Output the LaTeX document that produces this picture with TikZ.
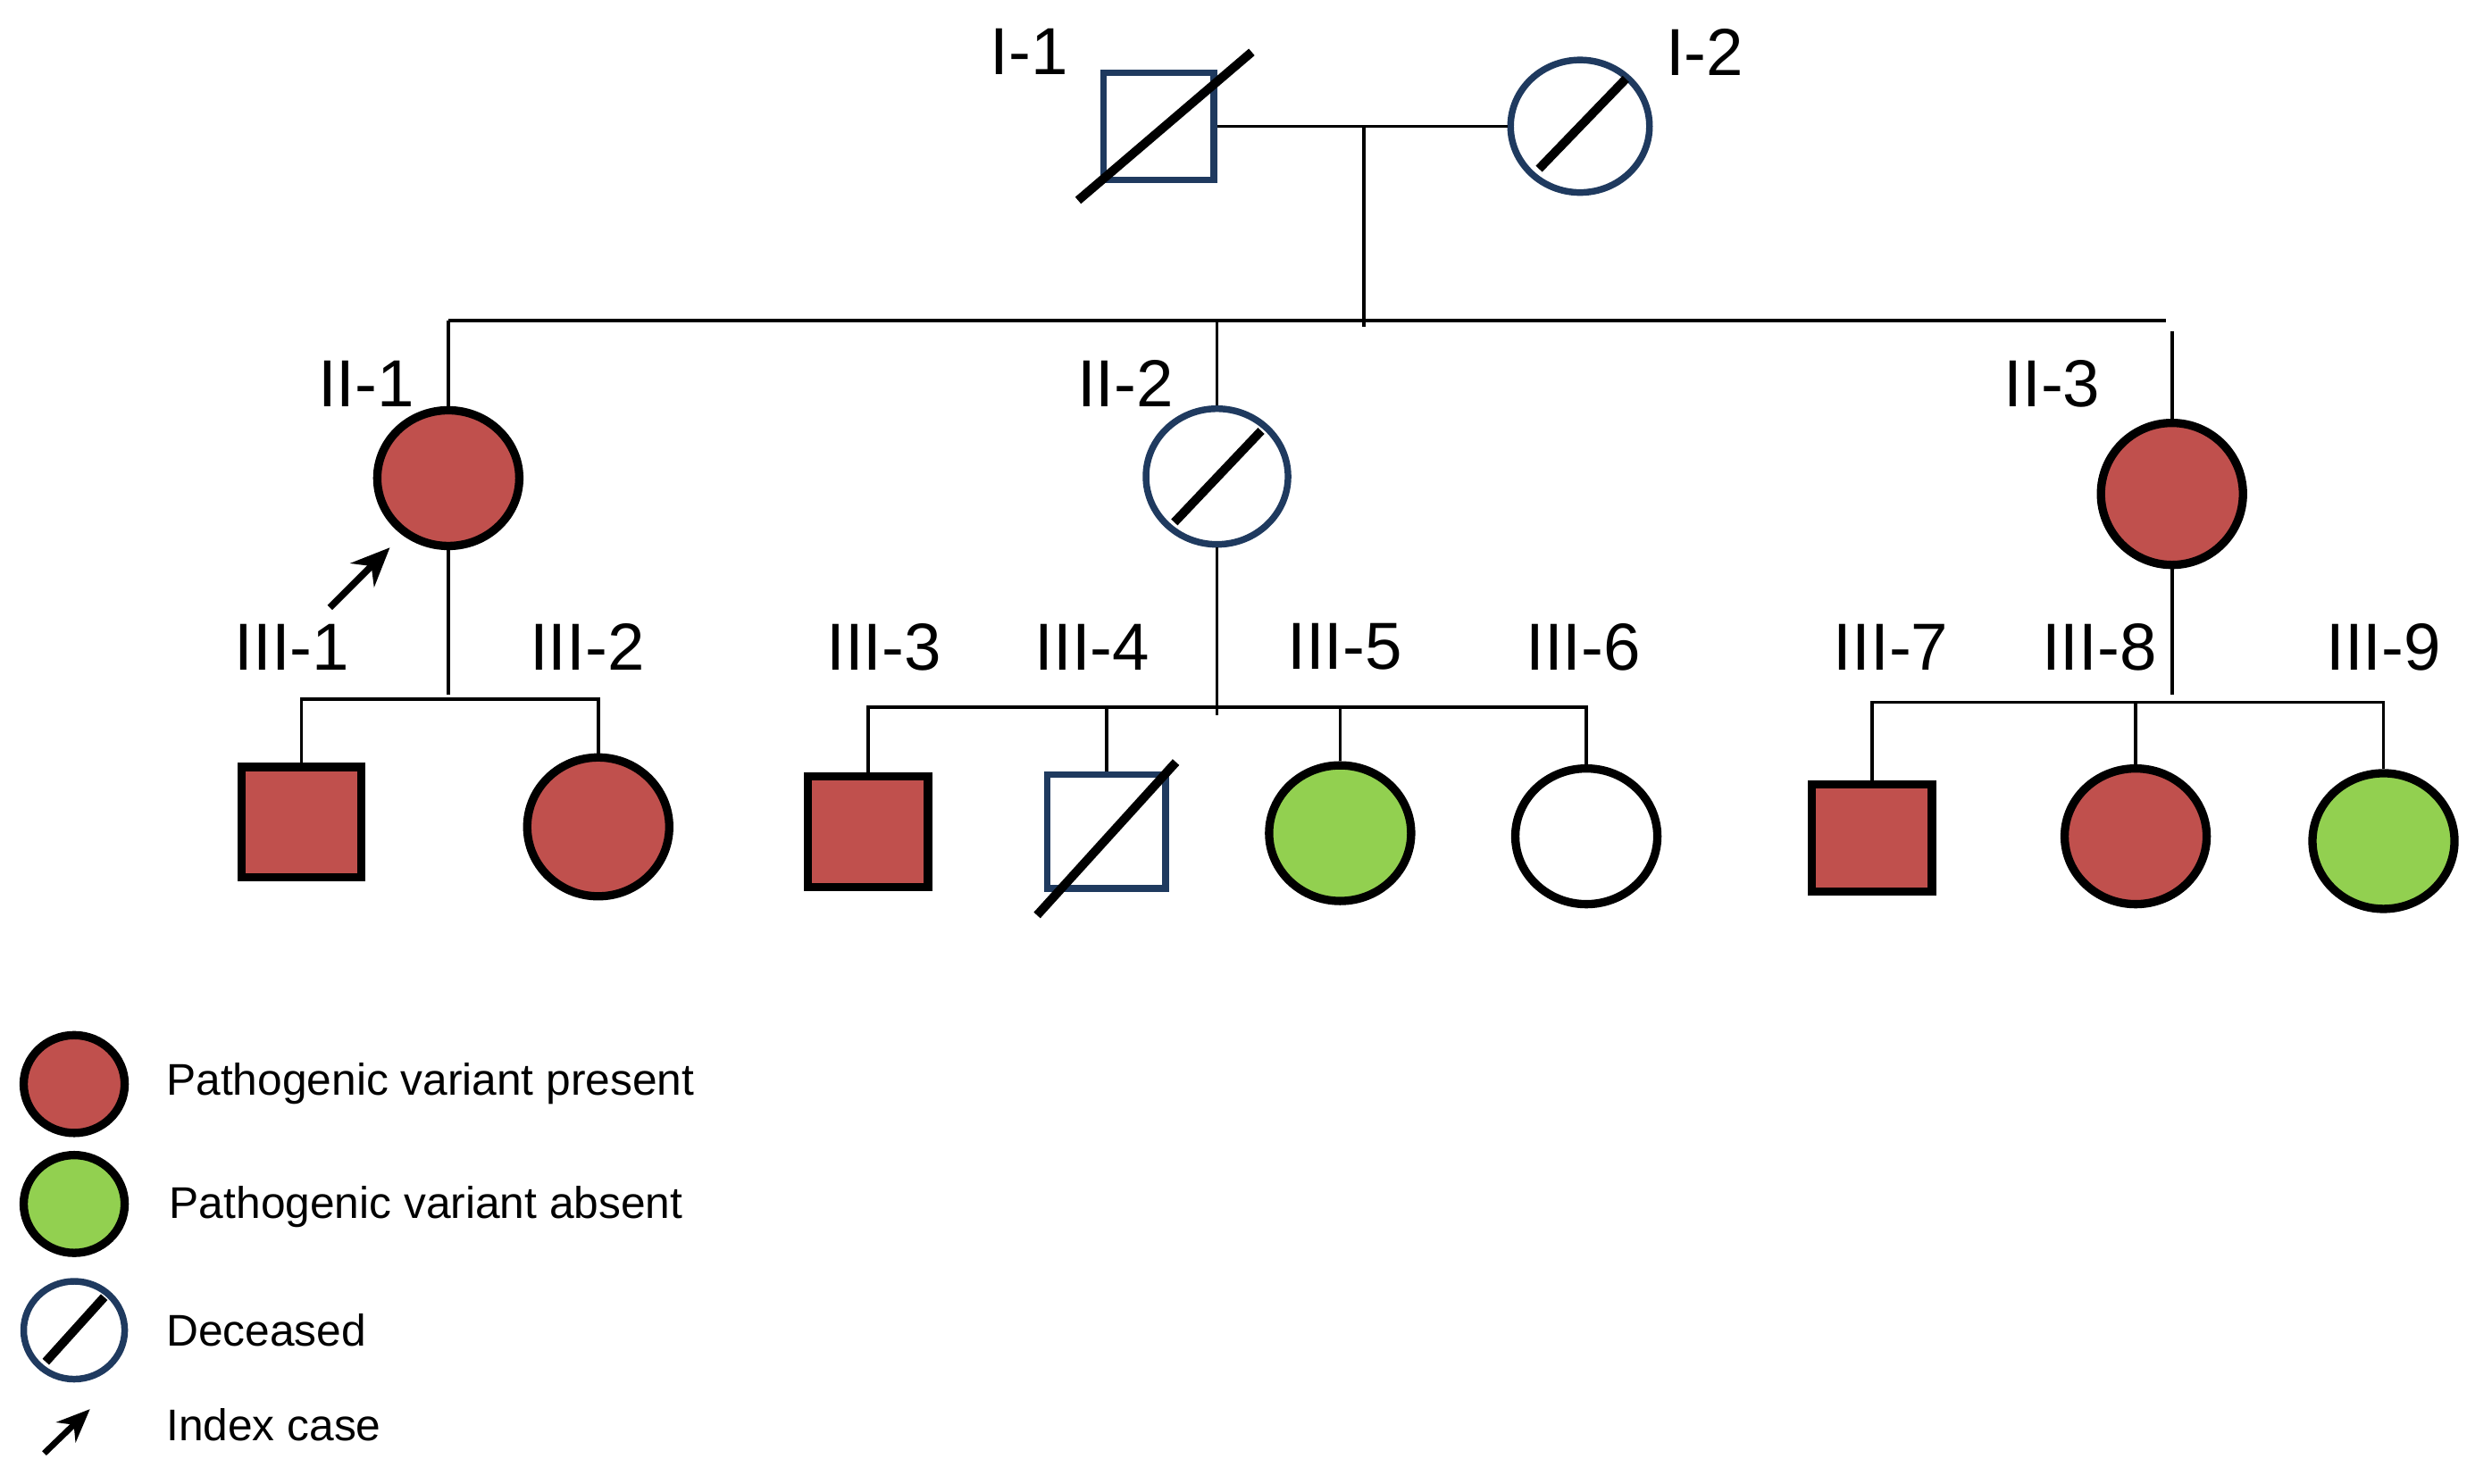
\documentclass[tikz,border=0pt]{standalone}
\usepackage{fontspec}
\setmainfont{Liberation Sans}
\usepackage{xcolor}
\usetikzlibrary{positioning,arrows.meta}
\definecolor{carrier}{HTML}{C0504D}
\definecolor{nocarrier}{HTML}{92D050}
\definecolor{deadline}{HTML}{1F3A5F}

\tikzset{
  male/.style={draw=black,line width=1.5pt,fill=carrier,minimum width=0.76cm,minimum height=0.7cm,inner sep=0pt},
  female/.style={draw=black,line width=1.5pt,fill=carrier,ellipse,minimum width=0.9cm,minimum height=0.86cm,inner sep=0pt},
  dead/.style={draw=deadline,fill=white,line width=1.2pt},
  slash/.style={line width=1.6pt,black},
  link/.style={line width=0.6pt},
  lab/.style={font=\fontsize{12}{12}\selectfont},
  leg/.style={font=\fontsize{8}{9}\selectfont,anchor=west}
}
\usetikzlibrary{shapes.geometric}

\begin{document}
\begin{tikzpicture}
\useasboundingbox (0,0) rectangle (15.68,9.4);
% generation I
\node [male,dead,minimum width=0.7cm,minimum height=0.68cm] (i1) at (7.34,8.6) {};
\node [female,dead,minimum width=0.88cm,minimum height=0.84cm] (i2) at (10.01,8.6) {};
\draw [slash] (6.83,8.13) -- (7.93,9.07);
\draw [slash] (9.75,8.33) -- (10.30,8.90);
\node [lab] at (6.52,9.07) {I-1};
\node [lab] at (10.80,9.07) {I-2};
\draw [link] (i1) -- (i2);
\coordinate (m1) at (8.64,8.6);
\draw [link] (m1) -- (8.64,7.33);
% generation II
\node [female] (ii1) at (2.84,6.37) {};
\node [female,dead] (ii2) at (7.71,6.38) {};
\node [female,minimum height=0.9cm] (ii3) at (13.76,6.27) {};
\draw [slash] (7.44,6.09) -- (7.99,6.67);
\coordinate (s1) at (2.84,7.37);
\draw [link] (s1) -- (13.72,7.37);
\draw [link] (s1) -- (ii1.north);
\draw [link] (ii2.north) -- (7.71,7.37);
\draw [link] (ii3.north) -- (13.76,7.30);
\node [lab] at (2.32,6.97) {II-1};
\node [lab] at (7.13,6.97) {II-2};
\node [lab] at (13.00,6.97) {II-3};
\draw [-{Stealth[length=7pt,width=6pt]},line width=1.2pt] (2.09,5.55) -- (2.47,5.93);
% generation III
\node [male] (iii1) at (1.91,4.19) {};
\node [female,minimum height=0.88cm] (iii2) at (3.79,4.16) {};
\node [male] (iii3) at (5.50,4.13) {};
\node [male,dead,minimum width=0.75cm,minimum height=0.72cm] (iii4) at (7.01,4.13) {};
\node [female,fill=nocarrier] (iii5) at (8.49,4.12) {};
\node [female,fill=white] (iii6) at (10.05,4.10) {};
\node [male,minimum height=0.68cm] (iii7) at (11.86,4.09) {};
\node [female] (iii8) at (13.53,4.10) {};
\node [female,fill=nocarrier] (iii9) at (15.10,4.07) {};
\draw [slash] (6.57,3.60) -- (7.45,4.57);
% sibships
\draw [link] (ii1.south) -- (2.84,5.00);
\draw [link] (iii1.north) |- (iii2.north |- 0,4.97) -- (iii2.north);
\draw [link] (ii2.south) -- (7.71,4.87);
\draw [link] (iii3.north) |- (iii6.north |- 0,4.92) -- (iii6.north);
\draw [link] (iii4.north) -- (iii4.north |- 0,4.92);
\draw [link] (iii5.north) -- (iii5.north |- 0,4.92);
\draw [link] (ii3.south) -- (13.76,5.00);
\draw [link] (iii7.north) |- (iii9.north |- 0,4.95) -- (iii9.north);
\draw [link] (iii8.north) -- (iii8.north |- 0,4.95);
\foreach \t/\x in {III-1/1.85,III-2/3.72,III-3/5.60,III-4/6.92,III-5/8.52,III-6/10.03,III-7/11.98,III-8/13.30,III-9/15.10}
  \node [lab] at (\x,5.30) {\t};
% legend
\node [female,minimum width=0.64cm,minimum height=0.62cm] (k1) at (0.47,2.53) {};
\node [female,fill=nocarrier,minimum width=0.64cm,minimum height=0.62cm] (k2) at (0.47,1.77) {};
\node [female,dead,minimum width=0.64cm,minimum height=0.62cm] (k3) at (0.47,0.97) {};
\draw [slash] (0.29,0.77) -- (0.66,1.18);
\draw [-{Stealth[length=6pt,width=5pt]},line width=1.1pt] (0.28,0.19) -- (0.57,0.47);
\node [leg] at (0.93,2.53) {Pathogenic variant present};
\node [leg] at (0.95,1.75) {Pathogenic variant absent};
\node [leg] at (0.93,0.97) {Deceased};
\node [leg] at (0.93,0.37) {Index case};
\end{tikzpicture}
\end{document}
